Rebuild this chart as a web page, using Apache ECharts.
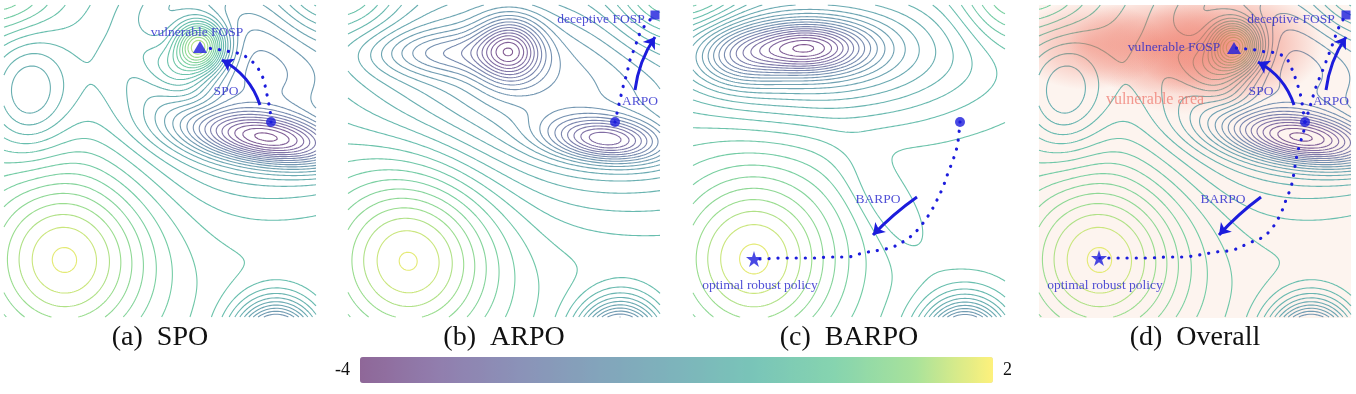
<!DOCTYPE html>
<html><head><meta charset="utf-8">
<script src="https://cdn.jsdelivr.net/npm/echarts@6/dist/echarts.min.js"></script>
<style>html,body{margin:0;padding:0;background:#fff}#c{width:1356px;height:394px}</style>
</head><body><div id="c"></div>
<script>
// ================= DATA =================
const contourLevels = [-3.8,-3.6,-3.4,-3.2,-3.0,-2.8,-2.6,-2.4,-2.2,-2.0,-1.8,-1.6,-1.4,-1.2,-1.0,-0.8,-0.6,-0.4,-0.2,0.0,0.2,0.4,0.6,0.8,1.0,1.2,1.4,1.6,1.8];
const colorRange = [-4, 2];
const colorbarTicks = ['-4', '2'];
const captions = ['(a)  SPO', '(b)  ARPO', '(c)  BARPO', '(d)  Overall'];
const baseLevel = 0.1;
// landscape bumps: [x, y, height, spreadX, spreadY, angleDeg]
const sharedBumps = [
  [61, 254, 1.75, 60, 62, 0],
  [272, 338, -3.2, 28, 28, 0],
  [0, -15, 0.8, 35, 30, 0],
  [318, -10, 0.9, 35, 35, 0]
];
const spoBumps = [
  [24, 88, -1.0, 30, 42, 0],
  [262, 60, -2.0, 100, 80, 0],
  [264, 134, -2.65, 55, 17, 8],
  [196, 42, 3.0, 18, 18, 0],
  [168, 68, 0.8, 30, 16, 40]
];
const arpoBumps = [
  [200, 75, -1.8, 150, 75, 15],
  [259, 135, -2.1, 40, 15, 5],
  [162, 45, -1.9, 22, 22, 0],
  [95, 48, -0.9, 50, 16, 0]
];
const barpoBumps = [
  [120, 45, -1.7, 110, 45, 0],
  [114, 43, -2.2, 40, 17, 0],
  [45, 52, -1.0, 30, 20, 0],
  [190, 195, -0.35, 42, 18, 55]
];
// optimisation paths
const spoPath = [[267,117],[266,105],[264,95],[262,85],[259,73],[253,62],[244,53],[233,48],[222,46],[211,44],[201,43]];
const arpoPath = [[267,117],[269,108],[272,95],[275,82],[279,68],[282,55],[287,42],[292,28],[299,18],[307,10]];
const barpoPath = [[267,117],[266,128],[264,142],[260,155],[255,168],[250,182],[244,195],[237,208],[227,222],[217,232],[200,242],[187,245],[170,248],[154,252],[137,252],[120,253],[104,253],[87,253],[70,254],[61,254]];
const overallSpoPath = [[266,117],[264,105],[262,92],[257,75],[252,62],[247,53],[237,48],[227,47],[217,45],[207,44],[195,43]];
const overallArpoPath = [[266,117],[270,105],[277,82],[285,62],[294,38],[300,22],[307,10]];
const overallBarpoPath = [[266,117],[265,125],[260,142],[257,155],[255,168],[252,182],[247,195],[242,208],[234,222],[224,232],[210,238],[194,245],[177,247],[160,250],[144,252],[127,252],[110,253],[94,253],[77,253],[60,253]];
// arrows: [x1, y1, x2, y2, curveness]
const spoArrows = [[256,100,218,55,-0.2]];
const arpoArrows = [[287,85,307,32,0.12]];
const barpoArrows = [[224,192,180,230,-0.05]];
const overallArrows = [[255,100,219,57,-0.2],[287,85,307,32,0.12],[222,192,180,230,-0.05]];
// markers: [kind, x, y]
const spoMarks = [['start',267,117],['vulnerable',196,42]];
const arpoMarks = [['start',267,117],['deceptive',307,10]];
const barpoMarks = [['start',267,117],['robust',61,254]];
const overallMarks = [['start',266,117],['vulnerable',195,43],['deceptive',307,10],['robust',60,253]];
// text labels: [text, x, y]
const spoLabels = [['vulnerable FOSP',193,27],['SPO',222,86]];
const arpoLabels = [['deceptive FOSP',253,14],['ARPO',292,96]];
const barpoLabels = [['BARPO',185,194],['optimal robust policy',67,280]];
const overallLabels = [['vulnerable FOSP',135,42],['deceptive FOSP',252,14],['SPO',222,86],['ARPO',292,96],['BARPO',184,194],['optimal robust policy',66,280]];
const areaLabel = [['vulnerable area',116,95]];
// vulnerable area blobs: [x, y, radiusX, radiusY, strength]
const vulnerableArea = [[190,40,95,60,0.6],[120,40,90,50,0.55],[50,40,75,45,0.4],[150,75,80,35,0.2]];

// ================= LAYOUT / STYLE =================
const W = 312, H = 313;
const panelLefts = [4, 348, 693, 1039];
const panelTop = 5;
const BLUE = '#1c1cdc';
const SERIF = 'Liberation Serif, Times New Roman, serif';
const viridisStops = [[68,1,84],[72,40,120],[62,73,137],[49,104,142],[38,130,142],[31,158,137],[53,183,121],[110,206,88],[253,231,37]];
function viridis(t, a) {
  t = Math.max(0, Math.min(1, t));
  const p = t * 8, i = Math.min(7, Math.floor(p)), f = p - i;
  const c = [0,1,2].map(k => viridisStops[i][k] + (viridisStops[i+1][k]-viridisStops[i][k])*f);
  const b = c.map(v => Math.round(v*a + 255*(1-a)));
  return 'rgb(' + b.join(',') + ')';
}
const panels = [
  {bumps: sharedBumps.concat(spoBumps), paths: [spoPath], arrows: spoArrows, marks: spoMarks, labels: spoLabels},
  {bumps: sharedBumps.concat(arpoBumps), paths: [arpoPath], arrows: arpoArrows, marks: arpoMarks, labels: arpoLabels},
  {bumps: sharedBumps.concat(barpoBumps), paths: [barpoPath], arrows: barpoArrows, marks: barpoMarks, labels: barpoLabels},
  {bumps: sharedBumps.concat(spoBumps), paths: [overallSpoPath, overallArpoPath, overallBarpoPath], arrows: overallArrows, marks: overallMarks, labels: overallLabels, overall: true}
];

function fieldAt(bumps, x, y) {
  let v = baseLevel;
  for (const b of bumps) {
    const th = b[5] * Math.PI / 180, dx = x - b[0], dy = y - b[1];
    const u = dx*Math.cos(th) + dy*Math.sin(th), w = -dx*Math.sin(th) + dy*Math.cos(th);
    v += b[2] * Math.exp(-(u*u/(2*b[3]*b[3]) + w*w/(2*b[4]*b[4])));
  }
  return v;
}

function contourItems(bumps) {
  const step = 2, nx = Math.floor(W/step)+1, ny = Math.floor(H/step)+1;
  const F = new Float64Array(nx*ny);
  for (let j=0;j<ny;j++) for (let i=0;i<nx;i++) F[j*nx+i] = fieldAt(bumps, i*step, j*step);
  const items = [];
  for (const L of contourLevels) {
    const pts = new Map(), adj = new Map();
    const hE = (i,j) => j*nx+i, vE = (i,j) => nx*ny + j*nx + i;
    const pt = (id, x1,y1,v1,x2,y2,v2) => { if (!pts.has(id)) { const t=(L-v1)/(v2-v1); pts.set(id,[x1+(x2-x1)*t, y1+(y2-y1)*t]); } return id; };
    const link = (a,b) => { if(!adj.has(a)) adj.set(a,[]); if(!adj.has(b)) adj.set(b,[]); adj.get(a).push(b); adj.get(b).push(a); };
    for (let j=0;j<ny-1;j++) for (let i=0;i<nx-1;i++) {
      const v0=F[j*nx+i], v1=F[j*nx+i+1], v2=F[(j+1)*nx+i+1], v3=F[(j+1)*nx+i];
      const b0=v0>L, b1=v1>L, b2=v2>L, b3=v3>L;
      const idx = b0|(b1<<1)|(b2<<2)|(b3<<3);
      if (idx===0||idx===15) continue;
      const x0=i*step, y0=j*step, x1=x0+step, y1=y0+step;
      const e = [];
      let e0=null,e1=null,e2=null,e3=null;
      if (b0!==b1) { e0=pt(hE(i,j),x0,y0,v0,x1,y0,v1); e.push(e0); }
      if (b1!==b2) { e1=pt(vE(i+1,j),x1,y0,v1,x1,y1,v2); e.push(e1); }
      if (b3!==b2) { e2=pt(hE(i,j+1),x0,y1,v3,x1,y1,v2); e.push(e2); }
      if (b0!==b3) { e3=pt(vE(i,j),x0,y0,v0,x0,y1,v3); e.push(e3); }
      if (e.length===2) link(e[0],e[1]);
      else if (e.length===4) {
        const c = (v0+v1+v2+v3)/4 > L;
        if (idx===5) { if (c) { link(e0,e1); link(e2,e3);} else { link(e3,e0); link(e1,e2);} }
        else { if (c) { link(e3,e0); link(e1,e2);} else { link(e0,e1); link(e2,e3);} }
      }
    }
    const seen = new Set(), color = viridis((L-colorRange[0])/(colorRange[1]-colorRange[0]), 0.68);
    const walk = (s) => {
      const path=[pts.get(s)]; seen.add(s); let cur=s;
      while (true) {
        const nb = adj.get(cur); const nx2 = nb.find(n=>!seen.has(n));
        if (nx2===undefined) { if (nb.includes(s) && path.length>2) path.push(pts.get(s)); break; }
        seen.add(nx2); path.push(pts.get(nx2)); cur=nx2;
      }
      if (path.length>1) items.push({coords: path, lineStyle: {color}});
    };
    for (const [id,nb] of adj) if (nb.length===1 && !seen.has(id)) walk(id);
    for (const [id] of adj) if (!seen.has(id)) walk(id);
  }
  return items;
}

const symbolFor = {start:'circle', vulnerable:'triangle', deceptive:'rect', robust:'path://M50,0 L61.2,34.5 L97.6,34.5 L68.2,55.9 L79.4,90.5 L50,69.1 L20.6,90.5 L31.8,55.9 L2.4,34.5 L38.8,34.5 Z'};
const sizeFor = {start:10, vulnerable:[14,12], deceptive:9, robust:16};

const grids=[], xAxes=[], yAxes=[], series=[], graphics=[];
panels.forEach((p,k) => {
  grids.push({left: panelLefts[k], top: panelTop, width: W, height: H, show: !!p.overall, backgroundColor: '#fdf4ef', borderWidth: 0});
  xAxes.push({type:'value', gridIndex:k, min:0, max:W, show:false});
  yAxes.push({type:'value', gridIndex:k, min:0, max:H, inverse:true, show:false});
  series.push({type:'lines', coordinateSystem:'cartesian2d', xAxisIndex:k, yAxisIndex:k, polyline:true, silent:true, z:2,
    lineStyle:{width:1.1, opacity:1}, data: contourItems(p.bumps)});
  if (p.overall) {
    series.push({type:'custom', coordinateSystem:'cartesian2d', xAxisIndex:k, yAxisIndex:k, silent:true, z:3, clip:true,
      data: vulnerableArea,
      renderItem: (params, api) => {
        const c = api.coord([api.value(0), api.value(1)]);
        const rx = api.value(2), ry = api.value(3), a = api.value(4);
        return {type:'circle', x:c[0], y:c[1], scaleY: ry/rx, shape:{cx:0, cy:0, r:rx},
          style:{fill:{type:'radial', x:0.5, y:0.5, r:0.5, colorStops:[
            {offset:0,color:'rgba(236,100,80,'+a+')'},{offset:0.55,color:'rgba(236,100,80,'+(a*0.55)+')'},{offset:1,color:'rgba(236,100,80,0)'}]}}};
      }});
    series.push({type:'scatter', xAxisIndex:k, yAxisIndex:k, silent:true, z:4, symbolSize:1, itemStyle:{color:'rgba(0,0,0,0)'},
      label:{show:true, position:'inside', formatter:'{b}', fontFamily:SERIF, fontSize:16, color:'rgba(238,110,100,0.85)'},
      data: areaLabel.map(l => ({name:l[0], value:[l[1],l[2]]}))});
  }
  p.paths.forEach(path => series.push({type:'line', xAxisIndex:k, yAxisIndex:k, data:path, smooth:0.35, symbol:'none', silent:true, z:5, clip:false,
    lineStyle:{color:BLUE, width:3.2, type:[0.1,9], cap:'round'}}));
  series.push({type:'lines', coordinateSystem:'cartesian2d', xAxisIndex:k, yAxisIndex:k, silent:true, z:6,
    symbol:['none','arrow'], symbolSize:11, lineStyle:{color:BLUE, width:3, opacity:1},
    data: p.arrows.map(a => ({coords:[[a[0],a[1]],[a[2],a[3]]], lineStyle:{curveness:a[4]}}))});
  series.push({type:'scatter', xAxisIndex:k, yAxisIndex:k, silent:true, z:7, clip:false,
    data: p.marks.map(m => ({value:[m[1],m[2]], symbol:symbolFor[m[0]], symbolSize:sizeFor[m[0]], itemStyle:{color:BLUE}}))});
  series.push({type:'scatter', xAxisIndex:k, yAxisIndex:k, silent:true, z:8, clip:false, symbolSize:1, itemStyle:{color:'rgba(0,0,0,0)'},
    label:{show:true, position:'inside', formatter:'{b}', fontFamily:SERIF, fontSize:13.5, color:'#2424cc'},
    data: p.labels.map(l => ({name:l[0], value:[l[1],l[2]]}))});
  graphics.push({type:'text', x: panelLefts[k] + W/2, y: 338, silent:true,
    style:{text: captions[k], font: '28px ' + SERIF, fill:'#111', textAlign:'center', textVerticalAlign:'middle', verticalAlign:'middle'}});
});
series.push({type:'scatter', xAxisIndex:0, yAxisIndex:0, data:[], silent:true});
const dummyIndex = series.length - 1;

const chart = echarts.init(document.getElementById('c'), null, {renderer:'canvas'});
chart.setOption({
  animation:false,
  backgroundColor:'#ffffff',
  grid: grids, xAxis: xAxes, yAxis: yAxes, series,
  graphic: graphics,
  visualMap: {type:'continuous', seriesIndex: dummyIndex, min: colorRange[0], max: colorRange[1], orient:'horizontal',
    left: 320, top: 342, itemWidth: 26, itemHeight: 633, calculable:false, text:[colorbarTicks[1], colorbarTicks[0]], textGap: 10,
    textStyle:{fontFamily:SERIF, fontSize:18, color:'#111'},
    inRange:{color: viridisStops.map((c,i)=>viridis(i/8, 0.6))}}
});
</script></body></html>
